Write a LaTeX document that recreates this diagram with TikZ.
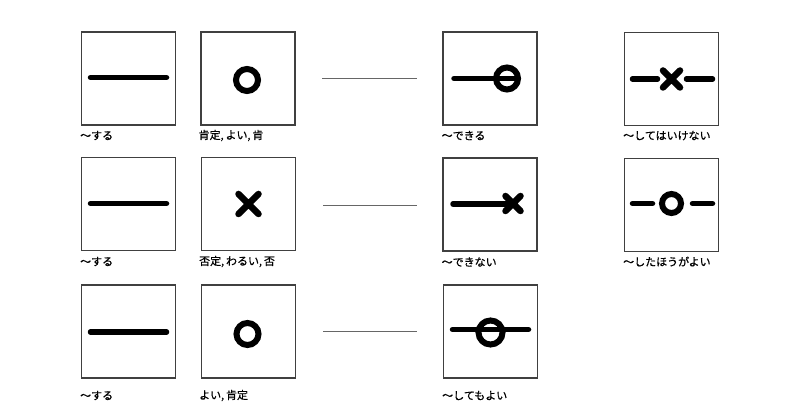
\documentclass[tikz,border=0pt]{standalone}
\usepackage{fontspec}
\newfontfamily\jp[FakeBold=0.7]{Noto Sans CJK JP}
\begin{document}
\begin{tikzpicture}[x=1pt,y=-1pt,
  pict/.style={draw=black!75, line width=1.1pt, minimum width=94pt, minimum height=93pt, inner sep=0pt},
  lab/.style={anchor=west, inner sep=0pt, font=\jp\fontsize{11}{13}\selectfont},
  sym/.style={line width=5.5pt, line cap=round},
  ring/.style={line width=6pt},
  cross/.style={line width=6.5pt, line cap=round},
  rule/.style={draw=black!60, line width=0.9pt}]
\useasboundingbox[fill=white] (0,0) rectangle (800,419);

% boxes
\node[pict] (a1) at (128.5,78.5) {};
\node[pict] (b1) at (248,78.5) {};
\node[pict] (c1) at (490,78.5) {};
\node[pict] (d1) at (671.5,79) {};
\node[pict] (a2) at (128.5,204) {};
\node[pict] (b2) at (248.5,204) {};
\node[pict] (c2) at (490,204.5) {};
\node[pict] (d2) at (671.5,205) {};
\node[pict] (a3) at (128.5,331.5) {};
\node[pict] (b3) at (248.5,331.5) {};
\node[pict] (c3) at (490.5,331.5) {};

% labels
\node[lab] (la1) at ([xshift=-1pt,yshift=-10pt]a1.south west) {〜する};
\node[lab] (lb1) at ([xshift=-2pt,yshift=-10pt]b1.south west) {肯定,\,よい,\,肯};
\node[lab] (lc1) at ([xshift=-1pt,yshift=-10pt]c1.south west) {〜できる};
\node[lab] (ld1) at ([xshift=-1pt,yshift=-9.5pt]d1.south west) {〜してはいけない};
\node[lab] (la2) at ([xshift=-1pt,yshift=-10.5pt]a2.south west) {〜する};
\node[lab] (lb2) at ([xshift=-2pt,yshift=-10.5pt]b2.south west) {否定,\,わるい,\,否};
\node[lab] (lc2) at ([xshift=-1pt,yshift=-10.5pt]c2.south west) {〜できない};
\node[lab] (ld2) at ([xshift=-1pt,yshift=-9.5pt]d2.south west) {〜したほうがよい};
\node[lab] (la3) at ([xshift=-1pt,yshift=-17pt]a3.south west) {〜する};
\node[lab] (lb3) at ([xshift=-2pt,yshift=-17pt]b3.south west) {よい,\,肯定};
\node[lab] (lc3) at ([xshift=-1pt,yshift=-17pt]c3.south west) {〜してもよい};

% symbols row 1
\begin{scope}[shift={(a1)}]
  \draw[sym] (-38,-1) -- (38,-1);
\end{scope}
\begin{scope}[shift={(b1)}]
  \draw[ring] (-1,1.5) circle[radius=11];
\end{scope}
\begin{scope}[shift={(c1)}]
  \draw[sym] (-36,0) -- (28,0);
  \draw[ring] (17,0) circle[radius=11];
\end{scope}
\begin{scope}[shift={(d1)}]
  \draw[sym] (-39,0) -- (-14,0);
  \draw[sym] (15,0) -- (41,0);
  \draw[cross] (-8.5,-8.5) -- (8.5,8.5) (-8.5,8.5) -- (8.5,-8.5);
\end{scope}

% symbols row 2
\begin{scope}[shift={(a2)}]
  \draw[sym] (-38,-0.5) -- (38,-0.5);
\end{scope}
\begin{scope}[shift={(b2)}]
  \draw[cross] (-10,-10) -- (10,10) (-10,10) -- (10,-10);
\end{scope}
\begin{scope}[shift={(c2)}]
  \draw[sym] (-37,-0.5) -- (24,-0.5);
  \draw[cross] (15.5,-8.5) -- (30.5,6.5) (15.5,6.5) -- (30.5,-8.5);
\end{scope}
\begin{scope}[shift={(d2)}]
  \draw[sym] (-39,-1.5) -- (-19,-1.5);
  \draw[sym] (21,-1.5) -- (41,-1.5);
  \draw[ring] (0,-1.5) circle[radius=9.5];
\end{scope}

% symbols row 3
\begin{scope}[shift={(a3)}]
  \draw[sym] (-38,0.5) -- (38,0.5);
\end{scope}
\begin{scope}[shift={(b3)}]
  \draw[ring] (-1,2.5) circle[radius=11];
\end{scope}
\begin{scope}[shift={(c3)}]
  \draw[sym] (-38,-2) -- (38,-2);
  \draw[ring] (0,1) circle[radius=12];
\end{scope}

% thin rules between the columns
\coordinate (r1s) at (322,78.3);
\coordinate (r1e) at (417,78.3);
\coordinate (r2s) at (323,205);
\coordinate (r2e) at (417,205);
\coordinate (r3s) at (323,331.7);
\coordinate (r3e) at (417,331.7);
\draw[rule] (r1s) -- (r1e);
\draw[rule] (r2s) -- (r2e);
\draw[rule] (r3s) -- (r3e);
\end{tikzpicture}
\end{document}
